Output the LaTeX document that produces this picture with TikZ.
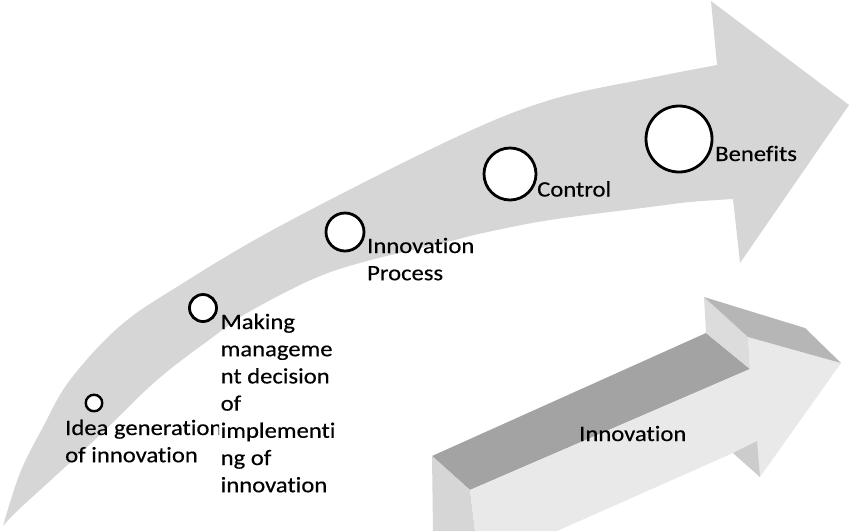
\documentclass[tikz,border=0pt]{standalone}
\usepackage{fontspec}
\setmainfont{Carlito}[FakeStretch=1.12, FakeBold=0.4, Ligatures={NoCommon}]
\newcommand{\stacklines}[1]{\begin{tabular}[t]{@{}l@{}}#1\end{tabular}}
\definecolor{bandgray}{RGB}{214,214,214}
\definecolor{topface}{RGB}{163,163,163}
\definecolor{frontface}{RGB}{233,233,233}
\definecolor{endface}{RGB}{214,214,214}
\definecolor{headtop}{RGB}{182,182,182}
\definecolor{headback}{RGB}{220,220,220}
\definecolor{barbface}{RGB}{204,204,204}
\begin{document}
\begin{tikzpicture}[x=1pt,y=-1pt,
  lbl/.style={font=\fontsize{22}{27.2}\selectfont, inner sep=0pt, anchor=base west, text=black},
  dot/.style={circle, draw=black, fill=white, line width=2.8pt, inner sep=0pt}]
\useasboundingbox (0,0) rectangle (850,531);
% curved band arrow
\fill[bandgray] (3,526) -- plot[smooth, tension=0.6] coordinates {(3,526) (20,473) (43,427) (70,380) (120,326) (180,285) (280,226) (450,140) (550,100) (650,78) (717,65)}
  -- (711,1) -- (849,105) -- (740,263) -- (733,199)
  -- plot[smooth, tension=0.6] coordinates {(733,199) (690,202) (650,207) (550,220) (483,233) (447,242) (367,261) (313,279) (247,313) (213,337) (157,380) (100,435) (40,490) (15,513) (3,526)} -- cycle;
% 3D block arrow
\fill[topface] (432,456) -- (706,333) -- (750,369) -- (470,490) -- cycle;
\fill[endface] (432,456) -- (470,490) -- (475,531) -- (433,531) -- cycle;
\fill[frontface] (470,490) -- (750,369) -- (748,337) -- (841,363) -- (760,477) -- (733,453) -- (557,531) -- (475,531) -- cycle;
\fill[headback] (704,297) -- (748,337) -- (750,369) -- (706,333) -- cycle;
\fill[headtop] (704,297) -- (805,328) -- (841,363) -- (748,337) -- cycle;
\fill[barbface] (733,453) -- (757,441) -- (760,477) -- cycle;
% circles
\node[dot, line width=2.4pt, minimum size=16.5pt] (c1) at (94,403) {};
\node[dot, minimum size=27pt] (c2) at (203,308) {};
\node[dot, minimum size=38pt] (c3) at (345,232) {};
\node[dot, minimum size=52pt] (c4) at (510,174) {};
\node[dot, minimum size=66pt] (c5) at (679,139) {};
% labels
\begin{scope}
\clip (0,0) rectangle (219,531);
\node[lbl] (t1) at (65,435) {\stacklines{Idea generation\\of innovation}};
\end{scope}
\node[lbl] (t2) at (220.5,329) {\stacklines{Making\\manageme\\nt decision\\of\\implementi\\ng of\\innovation}};
\node[lbl] (t3) at (367,253) {\stacklines{Innovation\\Process}};
\node[lbl] (t4) at (537,196.5) {Control};
\node[lbl] (t5) at (715,161) {Benefits};
\node[lbl] (t6) at (579,441) {Innovation};
\end{tikzpicture}
\end{document}
